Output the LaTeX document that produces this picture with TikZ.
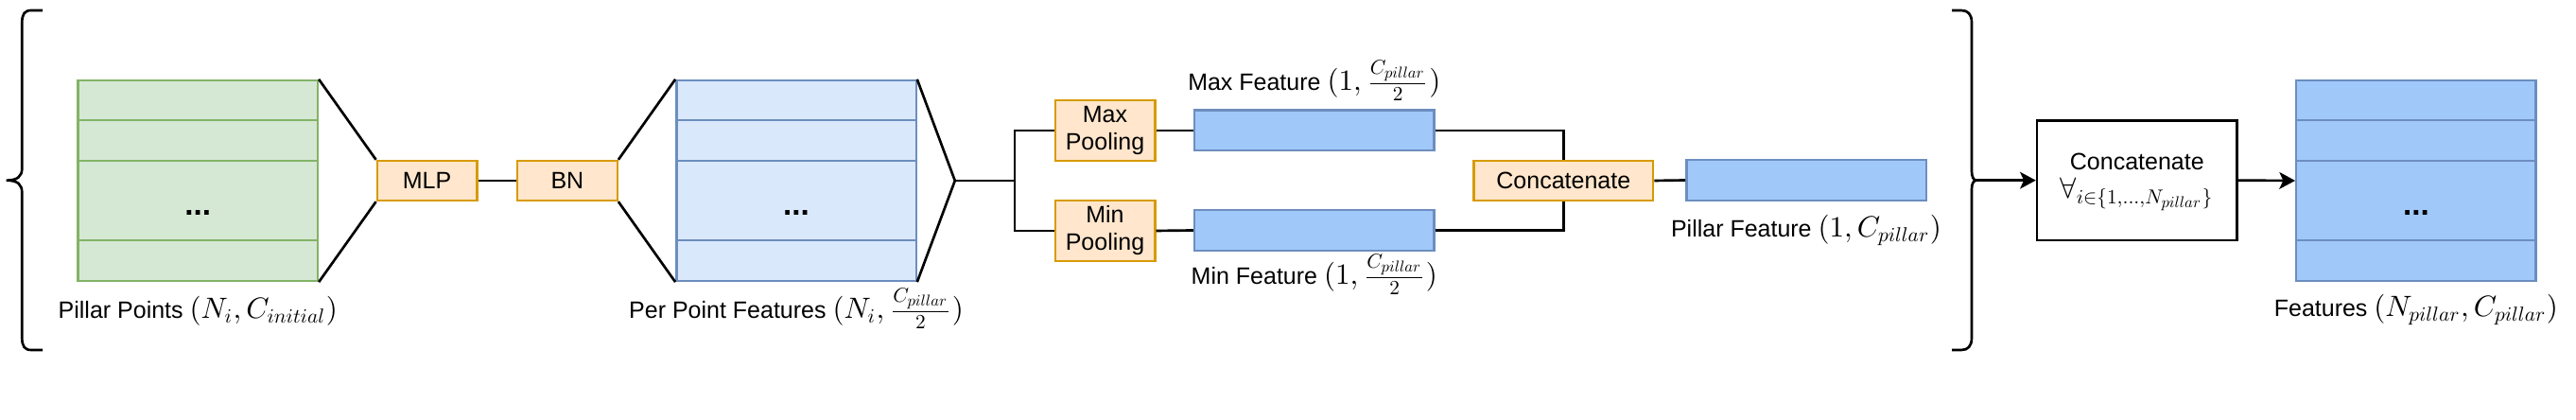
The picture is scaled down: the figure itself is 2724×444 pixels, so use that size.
\documentclass[tikz,border=0pt]{standalone}
\usepackage[no-math]{fontspec}
\setmainfont{Liberation Sans}
\DeclareFontFamily{OML}{mymi}{\skewchar\font=127 }
\DeclareFontShape{OML}{mymi}{m}{it}{<-> cmmi10}{}
\DeclareFontFamily{OMS}{mysy}{\skewchar\font=48 }
\DeclareFontShape{OMS}{mysy}{m}{n}{<-> cmsy10}{}
\DeclareFontFamily{OT1}{myrm}{\hyphenchar\font=-1 }
\DeclareFontShape{OT1}{myrm}{m}{n}{<-> cmr10}{}
\DeclareSymbolFont{operators}{OT1}{myrm}{m}{n}
\DeclareSymbolFont{letters}{OML}{mymi}{m}{it}
\DeclareSymbolFont{symbols}{OMS}{mysy}{m}{n}
\DeclareMathSizes{7.5}{9.3}{6.4}{5}
\usetikzlibrary{arrows.meta,calc}
\definecolor{gfill}{HTML}{D5E8D4}
\definecolor{gstroke}{HTML}{82B366}
\definecolor{lbfill}{HTML}{DAE8FC}
\definecolor{bstroke}{HTML}{6C8EBF}
\definecolor{dbfill}{HTML}{A0C8F8}
\definecolor{ofill}{HTML}{FFE6CC}
\definecolor{ostroke}{HTML}{D79B00}
\begin{document}
\begin{tikzpicture}[x=0.3pt,y=-0.3pt,
  font=\fontsize{7.5}{8.7}\selectfont,
  mat/.style={line width=0.7pt, inner sep=0, minimum width=76pt, minimum height=63.6pt},
  gmat/.style={mat, draw=gstroke, fill=gfill},
  lbmat/.style={mat, draw=bstroke, fill=lbfill},
  dbmat/.style={mat, draw=bstroke, fill=dbfill},
  bar/.style={line width=0.7pt, inner sep=0, draw=bstroke, fill=dbfill, minimum width=76pt, minimum height=12.8pt},
  op/.style={line width=0.7pt, inner sep=0, draw=ostroke, fill=ofill, align=center, minimum height=12.6pt},
  conn/.style={line width=0.8pt, black},
  arr/.style={conn, -{Stealth[length=5pt,width=5.3pt,inset=1.2pt]}},
  lbl/.style={anchor=base, inner sep=0},
  dots/.style={anchor=base, inner sep=0, font=\fontsize{10}{12}\selectfont\bfseries},
  brc/.style={line width=0.8pt, black}
]
\useasboundingbox (0,0) rectangle (2724,444);

% left brace
\draw[brc] (45,11) -- (33,11) .. controls (26,11) and (23.3,15) .. (23.3,24) -- (23.3,178)
  .. controls (23.3,186) and (19,190.7) .. (6.7,190.7)
  .. controls (19,190.7) and (23.3,195) .. (23.3,204) -- (23.3,357)
  .. controls (23.3,366) and (26,370) .. (33,370) -- (45,370);

% green matrix
\node[gmat] (g) at (209.3,191) {};
\foreach \yy in {127.3,170,254.3} \draw[gstroke, line width=0.7pt] (82.6,\yy) -- (336,\yy);
\node[dots] (gd) at (209.3,228) {...};
\node[lbl] (lg) at (209.3,337) {Pillar Points $(N_i, C_{initial})$};

% MLP, BN
\node[op, minimum width=31.7pt] (mlp) at (451.6,191) {MLP};
\node[op, minimum width=31.7pt] (bn) at (599.9,191) {BN};

% light blue matrix
\node[lbmat] (b) at (842,191) {};
\foreach \yy in {127.3,170,254.3} \draw[bstroke, line width=0.7pt] (715.6,\yy) -- (968.3,\yy);
\node[dots] (bd) at (842,228) {...};
\node[lbl] (lb) at (842,337) {Per Point Features $(N_i, \frac{C_{pillar}}{2})$};

\coordinate (pt) at (1009.8,191);
\coordinate (split) at (1073,191);

% pooling
\node[op, minimum width=31.7pt, minimum height=19.2pt] (maxp) at (1168.5,138) {Max\\Pooling};
\node[op, minimum width=31.7pt, minimum height=19.2pt] (minp) at (1168.5,244) {Min\\Pooling};

% bars
\node[bar] (maxb) at (1389.8,138) {};
\node[bar] (minb) at (1389.8,243.5) {};
\node[lbl] (lmax) at (1389.8,96) {Max Feature $(1, \frac{C_{pillar}}{2})$};
\node[lbl] (lmin) at (1389.8,301) {Min Feature $(1, \frac{C_{pillar}}{2})$};

% concatenate
\node[op, minimum width=56.9pt] (cat) at (1653.3,191) {Concatenate};
\node[bar, minimum height=12.9pt] (pb) at (1910,190.5) {};
\node[lbl] (lpb) at (1910,251) {Pillar Feature $(1, C_{pillar})$};

% right brace
\draw[brc] (2064,11) -- (2074,11) .. controls (2081,11) and (2085,15) .. (2085,24) -- (2085,181)
  .. controls (2085,187) and (2087,190.7) .. (2090,190.7)
  .. controls (2087,190.7) and (2085,194) .. (2085,200) -- (2085,357)
  .. controls (2085,366) and (2081,370) .. (2074,370) -- (2064,370);
\coordinate (tip) at (2090,190.7);

% concat box
\node[draw=black, line width=0.8pt, inner sep=0, minimum width=63.4pt, minimum height=38pt] (cb) at (2259.8,190.7) {};
\node[lbl] (cbt1) at (2259.8,180) {Concatenate};
\node[lbl] (cbt2) at (2259.8,210) {$\forall_{i\in\{1,...,N_{pillar}\}}$};

% big matrix
\node[dbmat] (f) at (2554.9,191) {};
\foreach \yy in {127.3,170,254.3} \draw[bstroke, line width=0.7pt] (2428,\yy) -- (2681.7,\yy);
\node[dots] (fd) at (2554.9,228) {...};
\node[lbl] (lf) at (2554.9,335) {Features $(N_{pillar}, C_{pillar})$};

% connectors
\draw[conn] (g.north east) -- (mlp.north west);
\draw[conn] (g.south east) -- (mlp.south west);
\draw[conn] (mlp.east) -- (bn.west);
\draw[conn] (bn.north east) -- (b.north west);
\draw[conn] (bn.south east) -- (b.south west);
\draw[conn] (b.north east) -- (pt) -- (b.south east);
\draw[conn] (pt) -- (split) |- (maxp.west);
\draw[conn] (split) |- (minp.west);
\draw[conn] (maxp.east) -- (maxb.west);
\draw[conn] (minp.east) -- (minb.west);
\draw[conn] (maxb.east) -| (cat.north);
\draw[conn] (minb.east) -| (cat.south);
\draw[conn] (cat.east) -- (pb.west);
\draw[arr] (tip) -- (cb.west);
\draw[arr] (cb.east) -- (f.west);
\end{tikzpicture}
\end{document}
